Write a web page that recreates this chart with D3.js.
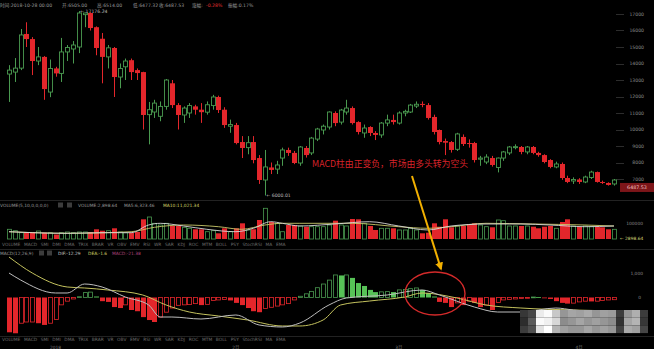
<!DOCTYPE html>
<html><head><meta charset="utf-8">
<script src="https://cdn.jsdelivr.net/npm/d3@7"></script>
<style>html,body{margin:0;padding:0;background:#000;overflow:hidden}</style>
</head><body>
<svg id="c" width="654" height="349"></svg>
<script>
// ---------------- DATA ----------------
const openP = [13360,13480,13720,15790,15480,14150,14400,12270,13700,13400,
14700,14880,15000,16960,17060,16200,15500,14400,14940,13180,
13800,14200,13600,13480,10900,11060,10800,11400,12800,11480,
10880,11000,11400,11200,11050,11450,11970,11200,10200,10270,
9240,8900,9240,8270,6940,7700,7600,8270,8760,8580,
7970,8880,8580,9420,9970,10150,11000,10450,11060,11300,
10450,9790,10150,9790,9670,10390,10580,10390,11000,11060,
11420,11550,11480,10760,9970,9300,9240,8800,9550,9180,
9180,8200,8030,8270,7700,8270,8580,8940,8940,8640,
8940,8580,8450,8150,7730,7910,7060,6880,6970,6820,
7090,7420,6820,6760,6700];
const highP = [13900,14330,16090,16500,15600,15000,14450,14240,13800,15550,
15120,15360,17176.24,17080,17100,16250,15850,15120,15000,14000,
14300,14300,13700,13500,11670,11800,11700,13060,13000,11600,
11400,11600,11500,11600,11700,12100,12050,11350,10600,10400,
9600,9600,9600,8450,8760,8000,8100,8900,8900,8700,
9000,9000,9550,10100,10300,11100,11100,11250,11800,11400,
10500,10300,10200,9900,10450,10900,10900,11100,11200,11550,
11700,11700,11600,10900,10000,9450,9300,9800,9700,9400,
9250,8400,8500,8400,8300,8700,9000,9100,9000,9000,
9000,8650,8500,8200,8050,8000,7200,7100,7050,7200,
7500,7450,6900,6800,7000];
const lowP = [11670,12880,13600,15000,13300,13900,11800,11960,13200,12880,
14150,14000,14630,16200,16000,14500,12800,13700,11970,12500,
13000,13000,13000,10000,9100,10700,10500,11200,11300,10000,
10400,10700,10900,10400,10900,11200,11000,10100,9800,9100,
8270,8500,7950,6700,6000.01,7300,7300,7800,8400,7900,
7800,8300,8450,9300,9700,10000,10200,10300,10900,10300,
9700,9500,9600,9360,9500,10200,10300,10300,10800,11000,
11300,11350,10600,9700,9100,8450,8600,8700,9000,8900,
8000,7800,7900,7750,7400,8100,8450,8800,8500,8500,
8500,8350,7950,7650,7650,6950,6750,6700,6700,6750,
7000,6780,6700,6600,6600];
const closeP = [13600,13720,15730,15480,14150,14400,12450,13700,13400,14700,
14970,15120,17060,17060,16150,14940,14400,14950,13180,13700,
14150,13480,13420,10880,11200,11600,11400,13000,11480,10880,
11300,11450,11200,11050,11500,11970,11180,10270,10300,9180,
8880,9200,8150,6940,7730,7550,7850,8760,8580,7970,
8940,8450,9480,10030,10200,11060,10390,11180,11300,10390,
9850,10090,9790,9670,10390,10580,10450,11000,11100,11480,
11530,11500,10700,9850,9240,9200,8760,9730,9120,9120,
8150,8270,8330,7850,8270,8640,8940,8960,8640,8940,
8580,8450,8030,7730,7910,7060,6820,6970,6820,7120,
7420,6820,6760,6640,6940];
const volume = [60600,51900,39400,43800,43800,50000,39400,39400,28100,39400,
43800,39400,43800,43800,43800,60600,51900,51900,66900,43800,
39400,39400,43800,123100,137500,98100,87500,98100,81300,81300,
73100,66900,60600,60600,45600,51900,35600,66900,45600,66900,
98100,56300,60600,118800,191900,106300,98100,45600,87500,87500,
81300,76900,76900,76900,76900,87500,114400,87500,81300,125000,
123100,98100,81300,56300,66900,66900,66900,56300,56300,66900,
56300,35600,39400,98100,76900,123100,73100,81300,81300,93800,
98100,87500,76900,73100,118800,114400,81300,81300,81300,81300,
76900,66900,76900,81300,66900,106300,123100,81300,76900,81300,
76900,76900,73100,60600,60600];
// volume moving averages, read at sample candles: [candle index, value]
const volMA5 = [[0,45600],[4,39400],[10,35600],[16,39400],[21,39400],[24,87500],[26,98100],[30,81300],
[34,60600],[39,45600],[42,66900],[45,108100],[47,98100],[50,81300],[56,93800],[62,108100],[67,81300],
[72,56300],[76,81300],[82,93800],[88,93800],[93,87500],[99,76900],[104,81300]];
const volMA10 = [[0,45600],[10,35600],[21,45600],[25,73100],[30,87500],[36,76900],[40,60600],[44,87500],
[47,98100],[50,98100],[59,98100],[67,76900],[72,66900],[76,76900],[82,98100],[90,93800],[99,87500],[104,81300]];
const macdHist = [-1420,-1460,-1050,-1000,-1000,-1050,-1120,-1050,-900,-300,
-150,-60,30,200,220,40,-150,-180,-390,-430,
-300,-510,-560,-800,-920,-1000,-800,-600,-430,-320,
-300,-290,-250,-310,-280,-120,-100,-80,-120,-220,
-310,-430,-560,-600,-450,-400,-350,-300,-250,-100,
50,150,250,400,550,710,920,900,920,800,
590,470,310,220,230,240,220,310,330,360,
390,310,180,40,-180,-220,-390,-220,-310,-150,
-220,-390,-310,-510,-200,-100,-80,-60,-40,-20,
20,15,-20,-60,-150,-220,-250,-230,-180,-150,
-160,-150,-120,-100,-90];
const difLine = [[0,1000],[2,714],[8,184],[10,184],[13,551],[16,429],[20,20],[24,-306],[26,-796],[28,-796],
[33,-878],[39,-714],[43,-1122],[47,-1204],[50,-1041],[55,-306],[58,-20],[65,102],[71,306],[74,102],
[80,-388],[84,-592],[88,-592],[94,-429],[97,-510],[104,-630]];
const deaLine = [[0,1653],[4,1000],[10,429],[13,388],[17,306],[23,102],[27,-306],[31,-592],[36,-755],
[41,-918],[47,-1163],[50,-1163],[54,-918],[57,-306],[62,-143],[68,20],[71,184],[77,-20],[82,-306],
[88,-429],[97,-510],[104,-550]];
const priceTicks = [7000,8000,9000,10000,11000,12000,13000,14000,15000,16000,17000];
const tabs = ["VOLUME","MACD","SMI","DMI","DMA","TRIX","BRAR","VR","OBV","EMV","RSI","WR","SAR","KDJ","ROC","MTM","BOLL","PSY","StochRSI","MA","EMA"];
const monthNames = ["2018","2月","3月","4月","5月","6月","7月","8月","9月","10月","11月","12月"];
const infoItems = [["时间:2018-10-28 00:00","#9a9a9a"],["开:6505.00","#9a9a9a"],["高:6514.00","#9a9a9a"],["低:6477.32","#9a9a9a"],["收:6487.53","#9a9a9a"],["涨幅:","#9a9a9a"],["-0.28%","#e03030"],["振幅:0.17%","#9a9a9a"]];
const infoX = [0,62,97,133,159,192,206,228];
const annotation = "MACD柱由正变负，市场由多头转为空头";
const mosaicShades = [
 [55,70,235,250,200,150,165,160,170,150,160,155,60,150,175,60],
 [45,90,250,240,215,140,150,165,150,160,150,140,50,165,180,55],
 [60,80,225,255,180,160,150,150,165,150,160,150,65,170,160,70]];

// ---------------- DRAW ----------------
const W = 654, H = 349;
const svg = d3.select("#c");
const FONT = "'DejaVu Sans','Noto Sans CJK SC',sans-serif";
svg.append("rect").attr("width",W).attr("height",H).attr("fill","#000");

const days = d3.timeDay.range(new Date(2017,11,24), new Date(2018,3,8));
const x = d3.scaleBand().domain(days.map((d,i)=>i)).range([6.09,616.9]).paddingInner(0.3).paddingOuter(0.15);
const cx = i => x(i) + x.bandwidth()/2;

const RED = "#e3262b", GREEN = "#4a9a50", GREENF = "#57c257";

// separators
[200.5,249.5,336.5].forEach(yy=>svg.append("line").attr("x1",0).attr("x2",W).attr("y1",yy).attr("y2",yy).attr("stroke","#222").attr("stroke-width",1));

// ---- price panel
const y = d3.scaleLinear().domain([7000,17000]).range([179,14]);
const yAxis = svg.append("g").attr("transform","translate(644,0)")
  .call(d3.axisRight(y).tickValues(priceTicks).tickSize(0).tickPadding(0).tickFormat(d3.format("d")));
yAxis.select(".domain").remove();
yAxis.selectAll("text").attr("text-anchor","end").attr("fill","#8a8a8a").attr("font-size",4.6).attr("font-family",FONT).attr("dy","0.32em");
svg.append("g").selectAll("line").data(priceTicks).join("line")
  .attr("x1",616).attr("x2",624).attr("y1",d=>Math.round(y(d))+0.5).attr("y2",d=>Math.round(y(d))+0.5)
  .attr("stroke","#2c2c2c");

const candles = svg.append("g");
days.forEach((d,i)=>{
  const up = closeP[i] >= openP[i];
  const col = up ? GREEN : RED;
  const xc = Math.round(cx(i)) + 0.5;
  candles.append("line").attr("x1",xc).attr("x2",xc).attr("y1",y(highP[i])).attr("y2",y(lowP[i]))
    .attr("stroke",col).attr("stroke-width",1);
  const top = y(Math.max(openP[i],closeP[i])), bot = y(Math.min(openP[i],closeP[i]));
  const hgt = Math.max(1, bot-top);
  if (up) {
    candles.append("rect").attr("x",xc-2).attr("y",top).attr("width",4).attr("height",hgt)
      .attr("fill","#000").attr("stroke",col).attr("stroke-width",0.9);
  } else {
    candles.append("rect").attr("x",xc-2.5).attr("y",top).attr("width",5).attr("height",hgt).attr("fill",col);
  }
});
// extreme labels
const iMax = d3.maxIndex(highP), iMin = d3.minIndex(lowP);
svg.append("text").attr("x",cx(iMax)+1.5).attr("y",y(highP[iMax])+2).attr("fill","#bbb")
  .attr("font-size",4.6).attr("font-family",FONT).text("← " + d3.format(".2f")(highP[iMax]));
svg.append("text").attr("x",cx(iMin)+1.5).attr("y",y(lowP[iMin])+2).attr("fill","#bbb")
  .attr("font-size",4.6).attr("font-family",FONT).text("← " + d3.format(".2f")(lowP[iMin]));
// current price tag
const lastPrice = 6487.53;
svg.append("rect").attr("x",620).attr("y",y(lastPrice)-4.5).attr("width",34).attr("height",9).attr("fill","#7d1519");
svg.append("text").attr("x",637).attr("y",y(lastPrice)+1.8).attr("text-anchor","middle").attr("fill","#f3c4c4")
  .attr("font-size",4.8).attr("font-family",FONT).text(d3.format(".2f")(lastPrice));

// info bar
infoItems.forEach((t,k)=>svg.append("text").attr("x",infoX[k]).attr("y",6.5).attr("fill",t[1])
  .attr("font-size",4.6).attr("font-family",FONT).text(t[0]));

// annotation
svg.append("text").attr("x",312).attr("y",167).attr("fill","#d8232a").attr("font-size",8.8)
  .attr("font-family","'Noto Sans CJK SC',sans-serif").text(annotation);

// ---- volume panel
const yv = d3.scaleLinear().domain([0,100000]).range([239,223]);
const vol = svg.append("g");
days.forEach((d,i)=>{
  const up = closeP[i] >= openP[i];
  const xc = Math.round(cx(i)) + 0.5;
  const top = yv(volume[i]);
  if (up) vol.append("rect").attr("x",xc-2).attr("y",top).attr("width",4).attr("height",yv(0)-top)
      .attr("fill","none").attr("stroke",GREEN).attr("stroke-width",0.8);
  else vol.append("rect").attr("x",xc-2.5).attr("y",top).attr("width",5).attr("height",yv(0)-top).attr("fill",RED);
});
const vline = d3.line().x(d=>cx(d[0])).y(d=>yv(d[1])).curve(d3.curveMonotoneX);
svg.append("path").attr("d",vline(volMA10)).attr("fill","none").attr("stroke","#c9c86a").attr("stroke-width",0.9);
svg.append("path").attr("d",vline(volMA5)).attr("fill","none").attr("stroke","#d8d8d8").attr("stroke-width",0.9);
svg.append("text").attr("x",643).attr("y",yv(100000)+1.6).attr("text-anchor","end").attr("fill","#888")
  .attr("font-size",4.4).attr("font-family",FONT).text("100000");
svg.append("text").attr("x",620).attr("y",yv(0)+1).attr("fill","#d8d87a")
  .attr("font-size",4.4).attr("font-family",FONT).text("← 2898.64");
// volume header
const vh = [["VOLUME(5,10,0,0,0,0)",0,"#9a9a9a"],["VOLUME:2,898.64",78,"#9a9a9a"],["MA5:6,323.46",124,"#9a9a9a"],["MA10:11,021.34",163,"#d6d66a"]];
vh.forEach(t=>svg.append("text").attr("x",t[1]).attr("y",207).attr("fill",t[2]).attr("font-size",4.4).attr("font-family",FONT).text(t[0]));
[58,67].forEach(bx=>svg.append("rect").attr("x",bx).attr("y",202.5).attr("width",5).attr("height",5).attr("fill","#3c3c3c"));

// tabs rows
function tabRow(yy){
  const g = svg.append("g");
  const ts = g.selectAll("text").data(tabs).join("text").attr("y",yy).attr("fill","#6e6e6e")
    .attr("font-size",4.4).attr("font-family",FONT).text(d=>d);
  const widths = ts.nodes().map(n=>n.getComputedTextLength());
  const gap = (276 - 2 - d3.sum(widths.slice(0,-1)))/(tabs.length-1);
  let xx = 2;
  ts.attr("x",(d,k)=>{const v = xx; xx += widths[k]+gap; return v;});
}
tabRow(246);
tabRow(341);

// ---- MACD panel
const ym = d3.scaleLinear().domain([0,1000]).range([297.5,273]);
const mg = svg.append("g");
days.forEach((d,i)=>{
  const v = macdHist[i];
  const falling = i === 0 ? true : v < macdHist[i-1];
  const col = v >= 0 ? (falling ? GREENF : GREEN) : RED;
  const xc = Math.round(cx(i)) + 0.5;
  const y0 = ym(Math.max(0,v)), y1 = ym(Math.min(0,v));
  const h = Math.max(0.8, y1-y0);
  if (falling) mg.append("rect").attr("x",xc-2.5).attr("y",y0).attr("width",5).attr("height",h).attr("fill",col);
  else mg.append("rect").attr("x",xc-2).attr("y",y0).attr("width",4).attr("height",h)
      .attr("fill","none").attr("stroke",col).attr("stroke-width",0.8);
});
const mline = d3.line().x(d=>cx(d[0])).y(d=>ym(d[1])).curve(d3.curveMonotoneX);
svg.append("path").attr("d",mline(deaLine)).attr("fill","none").attr("stroke","#c4c25e").attr("stroke-width",1);
svg.append("path").attr("d",mline(difLine)).attr("fill","none").attr("stroke","#bdbdbd").attr("stroke-width",1);
svg.append("text").attr("x",643).attr("y",ym(1000)+1.6).attr("text-anchor","end").attr("fill","#888")
  .attr("font-size",4.4).attr("font-family",FONT).text(d3.format(",")(1000));
svg.append("text").attr("x",641).attr("y",ym(0)+1.6).attr("text-anchor","end").attr("fill","#888")
  .attr("font-size",4.4).attr("font-family",FONT).text("0");
const mh = [["MACD(12,26,9)",0,"#9a9a9a"],["DIF:-12.29",58,"#cfcfcf"],["DEA:-1.6",88,"#d6d66a"],["MACD:-21.38",112,"#b0457f"]];
mh.forEach(t=>svg.append("text").attr("x",t[1]).attr("y",255).attr("fill",t[2]).attr("font-size",4.4).attr("font-family",FONT).text(t[0]));
[39,47].forEach(bx=>svg.append("rect").attr("x",bx).attr("y",250.5).attr("width",5).attr("height",5).attr("fill","#3c3c3c"));

// mosaic (blurred area)
mosaicShades.forEach((row,r)=>row.forEach((s,c)=>svg.append("rect").attr("x",520+c*8).attr("y",310+r*7.7)
  .attr("width",8).attr("height",7.7).attr("fill",d3.rgb(s,s,s))));

// ellipse + arrow
svg.append("ellipse").attr("cx",435).attr("cy",293.5).attr("rx",30).attr("ry",21.5)
  .attr("fill","none").attr("stroke","#d32a2a").attr("stroke-width",1.4);
const defs = svg.append("defs");
defs.append("marker").attr("id","ah").attr("viewBox","0 0 10 10").attr("refX",8).attr("refY",5)
  .attr("markerWidth",4).attr("markerHeight",4).attr("orient","auto")
  .append("path").attr("d","M0,0 L10,5 L0,10 z").attr("fill","#f2b000");
svg.append("line").attr("x1",412).attr("y1",176).attr("x2",441).attr("y2",269)
  .attr("stroke","#f2b000").attr("stroke-width",2).attr("marker-end","url(#ah)");

// date axis labels
const monthStarts = days.map((d,i)=>[d,i]).filter(p=>p[0].getDate()===1 && p[0].getFullYear()===2018);
svg.append("g").selectAll("text").data(monthStarts).join("text")
  .attr("x",p=>cx(p[1])).attr("y",348.5).attr("text-anchor","middle").attr("fill","#777")
  .attr("font-size",4.4).attr("font-family",FONT).text(p=>monthNames[p[0].getMonth()]);
</script>
</body></html>
